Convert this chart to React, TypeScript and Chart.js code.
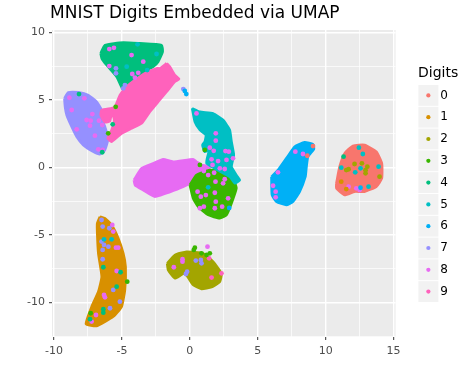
import React, { useEffect, useRef } from "react";
import { Chart, registerables } from "chart.js";

Chart.register(...registerables);

type P = [number, number];

const digits = ["0", "1", "2", "3", "4", "5", "6", "7", "8", "9"];
const colors = ["#F8766D", "#D89000", "#A3A500", "#39B600", "#00BF7D", "#00BFC4", "#00B0F6", "#9590FF", "#E76BF3", "#FF62BC"];
const xTicks = [-10, -7.5, -5, -2.5, 0, 2.5, 5, 7.5, 10, 12.5, 15];
const yTicks = [-12.5, -10, -7.5, -5, -2.5, 0, 2.5, 5, 7.5, 10];
const titleText = "MNIST Digits Embedded via UMAP";
const legendTitle = "Digits";

const outline0: P[] = [[10.79,-1.17],[11.03,0.06],[11.4,1.05],[12.01,1.61],[12.87,1.67],[13.73,1.17],[14.14,0.31],[14.14,-0.8],[13.73,-1.42],[12.87,-1.79],[12.13,-1.79],[11.4,-2.04],[10.79,-1.54]];
const outline1: P[] = [[-6.62,-3.64],[-6.25,-3.76],[-5.76,-4.26],[-5.27,-5.24],[-4.9,-6.36],[-4.73,-7.35],[-4.78,-9.07],[-5.02,-10.31],[-5.64,-11.05],[-6.86,-11.74],[-7.65,-11.59],[-7.23,-10.31],[-6.74,-9.2],[-6.49,-8.09],[-6.74,-6.36],[-6.82,-4.87],[-6.82,-4.13]];
const outline2: P[] = [[-1.67,-7.1],[-1.1,-6.48],[-0.24,-6.24],[0.98,-6.36],[1.71,-6.98],[2.33,-7.84],[2.21,-8.46],[1.6,-8.87],[0.86,-9.0],[0.24,-8.7],[-0.37,-7.84],[-1.1,-8.21],[-1.6,-7.59]];
const outline3: P[] = [[0,-1.3],[0.49,-0.56],[1.47,-0.19],[2.7,-0.31],[3.18,-0.8],[3.43,-1.54],[3.07,-2.65],[2.7,-3.52],[2.21,-3.76],[1.35,-3.52],[0.61,-2.9],[0.24,-2.28]];
const outline4: P[] = [[-6.57,8.46],[-6.25,9.07],[-4.9,9.27],[-3.68,9.2],[-2.08,9.07],[-2.0,8.58],[-2.33,7.84],[-2.7,7.47],[-3.14,7.22],[-4.41,6.24],[-4.9,5.74],[-5.39,6.73],[-6.13,7.59],[-6.49,8.09]];
const outline5: P[] = [[0.17,4.39],[0.74,4.13],[1.71,4.01],[2.45,3.52],[2.94,2.78],[3.07,1.91],[3.24,0.93],[3.07,0.06],[3.43,-0.56],[3.68,-0.93],[3.31,-1.17],[2.94,-0.68],[1.23,0.31],[1.42,1.3],[1.1,1.17],[0.93,1.67],[1.1,1.91],[1.18,2.41],[0.74,2.78],[0.37,3.39]];
const outline6: P[] = [[6.01,-0.68],[6.49,-0.19],[7.11,0.68],[7.72,1.54],[8.46,1.87],[9.07,1.72],[9.14,1.37],[8.7,0.8],[8.58,-0.06],[8.51,-0.68],[8.09,-1.79],[7.6,-2.53],[7.11,-2.78],[6.38,-2.53],[6.05,-2.04]];
const outline7: P[] = [[-9.24,5.13],[-8.95,5.57],[-8.21,5.57],[-7.48,5.37],[-6.86,4.87],[-6.49,4.26],[-6.49,3.64],[-6.25,3.02],[-6.01,2.16],[-6.25,1.3],[-6.62,0.98],[-7.11,1.17],[-7.85,1.67],[-8.33,2.28],[-8.7,3.02],[-9.07,3.89],[-9.19,4.5]];
const outline8: P[] = [[-4.12,-0.93],[-3.55,-0.06],[-2.7,0.31],[-1.96,0.61],[-1.23,0.43],[0.24,0.61],[0.49,0.43],[0.86,0.19],[1.47,0.06],[1.35,-0.31],[0.61,-0.8],[0.24,-1.05],[-0.24,-1.3],[-1.1,-1.67],[-2.57,-2.16],[-3.43,-1.67],[-4.04,-1.3]];
const outline9: P[] = [[-1.71,7.72],[-1.47,7.47],[-1.1,6.85],[-0.79,6.56],[-1.1,6.36],[-1.71,5.61],[-2.33,4.87],[-2.94,4.13],[-3.55,3.27],[-4.29,2.9],[-5.02,2.53],[-5.76,1.91],[-6.05,2.16],[-5.76,2.78],[-5.57,3.52],[-5.76,4.13],[-5.88,3.44],[-6.25,3.35],[-6.57,3.89],[-6.49,4.26],[-5.76,4.39],[-5.51,4.5],[-5.15,5.37],[-4.65,5.99],[-4.04,6.48],[-3.31,6.98],[-2.45,7.35],[-2.21,7.35]];

const strays0: P[] = [[8.65,0.87],[9.07,1.59]];
const strays1: P[] = [[11.15,-1.05],[11.52,-1.6]];
const strays2: P[] = [[12.13,0.26],[11.69,-0.13],[11.52,-0.19],[12.67,0.31],[13.07,0.06],[12.94,-0.43],[13.97,-0.68],[12.94,-0.2]];
const strays3: P[] = [[-4.61,-8.46],[-7.3,-10.8],[0.37,-5.94],[0.29,-6.11],[0.86,-6.36],[1.47,-6.36],[1.23,-6.48],[0.74,0.19],[1.1,1.3],[-5.46,4.5],[-6.01,2.53]];
const strays4: P[] = [[-6.37,-7.39],[-5.1,-7.76],[-5.39,-8.83],[-6.37,-10.5],[-6.37,-10.76],[-7.35,-11.24],[11.32,0.8],[-8.16,5.44],[-6.45,1.13],[-5.68,3.2]];
const strays5: P[] = [[-6.32,-5.32],[-5.76,-5.32],[12.45,1.47],[12.74,1.0],[11.15,-0.01],[13.9,0.06],[12.18,-0.36],[12.57,-0.06],[13.16,-1.42],[1.35,-1.47],[-2.45,8.41],[-4.65,7.47],[-3.85,9.13],[-3.14,7.22]];
const strays6: P[] = [[12.57,-1.5],[-0.26,5.44],[-0.37,5.67],[2.9,-3.0]];
const strays7: P[] = [[-6.5,-3.89],[-6.42,-4.38],[-5.93,-4.5],[-6.5,-5.49],[-6.42,-6.11],[-6.32,-5.74],[-6.0,-5.87],[-6.42,-6.8],[-5.64,-9.07],[-5.15,-9.94],[-5.88,-10.43],[-0.2,-7.72],[-0.29,-7.89],[0.44,-6.9],[0.81,-6.85],[0.86,-7.1],[-5.44,7.35],[-5.44,6.98],[-4.78,6.11],[-4.9,5.87],[-0.48,5.81]];
const strays8: P[] = [[-5.71,-4.26],[-5.64,-4.75],[-5.44,-5.94],[-5.27,-5.94],[-5.39,-7.67],[-6.32,-9.44],[-6.25,-9.62],[-6.91,-10.93],[-7.23,-11.42],[-1.18,-7.39],[-0.54,-6.8],[-0.54,-6.98],[1.3,-5.87],[7.77,1.17],[8.33,1.0],[6.49,-0.36],[6.32,-1.79],[6.32,-2.21],[6.13,-1.35],[11.69,-1.42],[12.5,-1.67],[12.26,-1.54],[0.49,4.01],[1.91,2.53],[1.91,1.99],[1.47,1.47],[1.76,1.24],[2.62,1.22],[2.87,1.17],[3.18,0.68],[2.7,0.56],[2.08,0.48],[1.6,0.61],[1.67,0.19],[2.21,-0.06],[2.57,-0.11],[1.79,-0.39],[1.03,-0.26],[1.35,-0.56],[1.89,-1.05],[2.57,-0.87],[2.45,-1.17],[2.82,-2.28],[1.84,-1.87],[1.18,-2.04],[0.81,-2.16],[0.57,-1.79],[1.91,-2.53],[2.38,-2.9],[1.84,-3.02],[1.03,-2.9],[0.74,-3.02],[-5.93,8.78],[-5.59,8.87],[-4.29,8.33],[-5.93,7.52],[-4.24,6.93],[-3.8,7.02],[-4.04,6.65],[-3.43,7.84],[-8.87,5.17],[-7.77,5.13],[-8.7,4.26],[-7.18,3.96],[-7.6,3.52],[-7.3,3.47],[-7.35,3.1],[-6.45,3.15],[-6.69,3.47],[-8.33,2.83],[-6.99,2.36],[-6.74,1.35],[-6.42,1.3]];
const strays9: P[] = [[1.42,-6.73],[1.6,-8.16],[2.33,-7.84]];

const outlines = [outline0, outline1, outline2, outline3, outline4, outline5, outline6, outline7, outline8, outline9];
const strays = [strays0, strays1, strays2, strays3, strays4, strays5, strays6, strays7, strays8, strays9];
const outlineOrder = [11, 12, 13, 18, 14, 17, 15, 16, 19, 10];

const font = "'DejaVu Sans'";

const backdrop = {
  id: "backdrop",
  afterLayout(chart: any) {
    chart.titleBlock.left = 50;
    chart.legend.top += 4;
    chart.legend.bottom += 4;
  },
  beforeDraw(chart: any) {
    const { ctx, chartArea: a } = chart;
    ctx.save();
    ctx.fillStyle = "#EBEBEB";
    ctx.fillRect(a.left, a.top, a.right - a.left, a.bottom - a.top);
    ctx.fillStyle = "#F2F2F2";
    for (const hit of chart.legend.legendHitBoxes) {
      const cx = hit.left + 6;
      const cy = hit.top + hit.height / 2;
      ctx.fillRect(cx - 10, cy - 10.4, 20, 20.8);
    }
    ctx.fillStyle = "#000000";
    ctx.font = `14px ${font}`;
    ctx.textBaseline = "middle";
    ctx.fillText(legendTitle, 418, 73);
    ctx.restore();
  },
};

export default function App() {
  const ref = useRef<HTMLCanvasElement>(null);
  useEffect(() => {
    const strayDatasets = digits.map((d, i) => ({
      label: d,
      data: strays[i],
      backgroundColor: colors[i],
      borderColor: colors[i],
      borderWidth: 0,
      pointRadius: 2.4,
      showLine: false,
      order: 0,
    }));
    const blobDatasets = digits.map((d, i) => ({
      label: d + " cluster",
      data: [...outlines[i], outlines[i][0]],
      backgroundColor: colors[i],
      borderColor: colors[i],
      borderWidth: 2.5,
      borderJoinStyle: "round",
      pointRadius: 0,
      showLine: true,
      fill: "shape",
      tension: 0.15,
      order: outlineOrder[i],
    }));
    const chart = new Chart(ref.current!, {
      type: "scatter",
      data: { datasets: [...strayDatasets, ...blobDatasets] as any },
      plugins: [backdrop],
      options: {
        animation: false,
        responsive: false,
        events: [],
        layout: { padding: { left: 0, right: 16, top: 0, bottom: 0 } },
        plugins: {
          tooltip: { enabled: false },
          title: {
            display: true,
            text: titleText,
            align: "start",
            color: "#000000",
            font: { family: font, size: 17, weight: "normal" },
            padding: { top: 3, bottom: 6.6 },
          },
          legend: {
            position: "right",
            align: "center",
            labels: {
              filter: (item: any) => item.datasetIndex < 10,
              usePointStyle: true,
              boxHeight: 3,
              color: "#000000",
              font: { family: font, size: 12 },
              padding: 9.8,
            },
          },
        },
        scales: {
          x: {
            type: "linear",
            min: -10.15,
            max: 15.15,
            afterFit: (s: any) => { s.height = 42; },
            afterBuildTicks: (s: any) => { s.ticks = xTicks.map((value) => ({ value })); },
            border: { display: false },
            grid: {
              color: "#FFFFFF",
              lineWidth: (c: any) => (c.tick && c.tick.value % 5 === 0 ? 1.4 : 0.7),
              tickColor: (c: any) => (c.tick && c.tick.value % 5 === 0 ? "#333333" : "rgba(0,0,0,0)"),
              tickLength: 3,
              tickWidth: 1,
            },
            ticks: {
              autoSkip: false,
              maxRotation: 0,
              color: "#4D4D4D",
              padding: 4.5,
              font: { family: font, size: 11 },
              callback: (v: any) => (v % 5 === 0 ? String(v) : ""),
            },
          },
          y: {
            type: "linear",
            min: -12.56,
            max: 10.19,
            afterFit: (s: any) => { s.width = 52; },
            afterBuildTicks: (s: any) => { s.ticks = yTicks.map((value) => ({ value })); },
            border: { display: false },
            grid: {
              color: "#FFFFFF",
              lineWidth: (c: any) => (c.tick && c.tick.value % 5 === 0 ? 1.4 : 0.7),
              tickColor: (c: any) => (c.tick && c.tick.value % 5 === 0 ? "#333333" : "rgba(0,0,0,0)"),
              tickLength: 3,
              tickWidth: 1,
            },
            ticks: {
              autoSkip: false,
              color: "#4D4D4D",
              padding: 4,
              font: { family: font, size: 11 },
              callback: (v: any) => (v % 5 === 0 ? String(v) : ""),
            },
          },
          gutter: {
            type: "linear",
            position: "right",
            display: true,
            afterFit: (s: any) => { s.width = 17; },
            border: { display: false },
            grid: { display: false },
            ticks: { display: false },
          },
        },
      } as any,
    });
    return () => chart.destroy();
  }, []);
  return (
    <div style={{ position: "fixed", left: 0, top: 0, width: 474, height: 379, background: "#FFFFFF" }}>
      <canvas ref={ref} width={474} height={379} style={{ display: "block" }} />
    </div>
  );
}
